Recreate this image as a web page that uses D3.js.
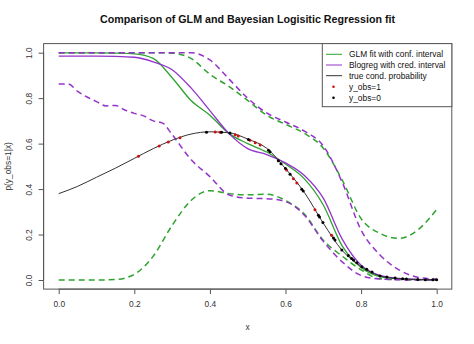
<!DOCTYPE html>
<html>
<head>
<meta charset="utf-8">
<script src="https://cdn.jsdelivr.net/npm/d3@7/dist/d3.min.js"></script>
<style>
  html, body { margin: 0; padding: 0; background: #fff; }
  svg { display: block; font-family: "Liberation Sans", Arial, sans-serif; }
</style>
</head>
<body>
<svg id="chart" width="474" height="344"></svg>
<script>
// Evaluation grid shared by the fitted curves
const xGrid = [0.00, 0.05, 0.10, 0.15, 0.20, 0.25, 0.30, 0.35, 0.40, 0.45, 0.50,
               0.55, 0.60, 0.65, 0.70, 0.75, 0.80, 0.85, 0.90, 0.95, 1.00];

// True conditional probability p(y=1|x)
const trueProb = [0.380, 0.412, 0.452, 0.492, 0.535, 0.578, 0.615, 0.642, 0.652, 0.648, 0.620,
                  0.580, 0.490, 0.385, 0.250, 0.130, 0.060, 0.018, 0.006, 0.002, 0.001];

// GLM fit and its confidence band
const glmFit   = [0.999, 0.999, 0.999, 0.998, 0.995, 0.975, 0.890, 0.790, 0.725, 0.645, 0.600,
                  0.563, 0.510, 0.445, 0.330, 0.150, 0.055, 0.015, 0.005, 0.002, 0.001];
const glmUpper = [1.000, 1.000, 1.000, 1.000, 1.000, 1.000, 0.998, 0.975, 0.905, 0.852, 0.790,
                  0.725, 0.685, 0.645, 0.580, 0.440, 0.270, 0.205, 0.183, 0.220, 0.310];
const glmLower = [0.000, 0.000, 0.000, 0.002, 0.025, 0.105, 0.240, 0.350, 0.393, 0.380, 0.375,
                  0.377, 0.350, 0.290, 0.175, 0.105, 0.045, 0.005, 0.002, 0.001, 0.000];

// Bayesian logistic regression fit and its credible band
const blogFit   = [0.985, 0.985, 0.985, 0.984, 0.980, 0.960, 0.925, 0.845, 0.745, 0.645, 0.578,
                   0.552, 0.515, 0.460, 0.360, 0.180, 0.065, 0.020, 0.007, 0.003, 0.002];
const blogUpper = [1.000, 1.000, 1.000, 1.000, 1.000, 1.000, 1.000, 1.000, 0.968, 0.885, 0.800,
                   0.735, 0.695, 0.655, 0.590, 0.430, 0.220, 0.110, 0.045, 0.012, 0.004];
// The lower credible bound is rougher, so it has its own finer grid
const blogLowerX = [0.000, 0.025, 0.050, 0.075, 0.100, 0.125, 0.150, 0.175, 0.200, 0.225, 0.250,
                    0.275, 0.300, 0.350, 0.400, 0.450, 0.500, 0.550, 0.600, 0.650, 0.700,
                    0.750, 0.800, 0.850, 0.900, 0.950, 1.000];
const blogLower  = [0.862, 0.862, 0.830, 0.805, 0.785, 0.766, 0.768, 0.748, 0.733, 0.722, 0.700,
                    0.690, 0.640, 0.530, 0.455, 0.375, 0.360, 0.358, 0.345, 0.285, 0.170,
                    0.080, 0.020, 0.004, 0.001, 0.000, 0.000];

// Observed inputs, split by outcome
const obsX1 = [0.211, 0.266, 0.290, 0.321, 0.414, 0.427, 0.467, 0.475, 0.506, 0.520, 0.533,
               0.603, 0.621, 0.630, 0.678, 0.722];
const obsX0 = [0.391, 0.431, 0.453, 0.502, 0.555, 0.559, 0.581, 0.588, 0.600, 0.612, 0.643,
               0.647, 0.687, 0.690, 0.699, 0.727, 0.731, 0.749, 0.766, 0.775, 0.780, 0.789,
               0.802, 0.815, 0.829, 0.850, 0.868, 0.890, 0.910, 0.920, 0.950, 0.970, 0.990, 1.000];

const xTicks = [0, 0.2, 0.4, 0.6, 0.8, 1.0];
const yTicks = [0, 0.2, 0.4, 0.6, 0.8, 1.0];

const legendLabels = ["GLM fit with conf. interval", "Blogreg with cred. interval",
                      "true cond. probability", "y_obs=1", "y_obs=0"];

const GREEN = "#2ea32e", PURPLE = "#9333cc", TRUE_COL = "#333333", RED = "#cc1111", AXIS = "#555555";

const svg = d3.select("#chart");
const box = { left: 43.6, right: 451.8, top: 43.6, bottom: 289.1 };

// R-style 4% padding on both axes
const x = d3.scaleLinear().domain([-0.04, 1.04]).range([box.left, box.right]);
const y = d3.scaleLinear().domain([-0.04, 1.04]).range([box.bottom, box.top]);

// Title
svg.append("text")
  .attr("x", 247.5).attr("y", 23)
  .attr("text-anchor", "middle")
  .attr("font-size", 10.7).attr("font-weight", "bold").attr("fill", "#111")
  .text("Comparison of GLM and Bayesian Logisitic Regression fit");

// Axes
const xAxis = d3.axisBottom(x).tickValues(xTicks).tickFormat(d3.format(".1f")).tickSize(5).tickPadding(4);
const yAxis = d3.axisLeft(y).tickValues(yTicks).tickFormat(d3.format(".1f")).tickSize(5).tickPadding(3);

const gx = svg.append("g").attr("transform", `translate(0,${box.bottom})`).call(xAxis);
gx.select(".domain").attr("d", `M${x(0)},0H${x(1)}`);
const gy = svg.append("g").attr("transform", `translate(${box.left},0)`).call(yAxis);
gy.select(".domain").attr("d", `M0,${y(0)}V${y(1)}`);
[gx, gy].forEach(g => {
  g.selectAll("path, line").attr("stroke", AXIS);
  g.selectAll("text").attr("font-size", 8.4).attr("fill", "#333")
    .attr("font-family", "\"Liberation Sans\", Arial, sans-serif");
});
gx.selectAll("text").attr("dy", "0.71em").attr("y", 12);
// Vertical tick labels on the y axis, read bottom-to-top
gy.selectAll(".tick text")
  .attr("x", 0).attr("y", 0).attr("dy", "0")
  .attr("text-anchor", "middle")
  .attr("transform", "translate(-12,0) rotate(-90)");

// Plot frame
svg.append("rect")
  .attr("x", box.left).attr("y", box.top)
  .attr("width", box.right - box.left).attr("height", box.bottom - box.top)
  .attr("fill", "none").attr("stroke", AXIS).attr("stroke-width", 1);

// Axis titles
svg.append("text").attr("x", 247.7).attr("y", 330)
  .attr("text-anchor", "middle").attr("font-size", 8.4).attr("fill", "#333").text("x");
svg.append("text").attr("transform", `translate(11,${(box.top + box.bottom) / 2}) rotate(-90)`)
  .attr("text-anchor", "middle").attr("font-size", 8.4).attr("fill", "#333").text("p(y_obs=1|x)");

// Curves, clipped to the plotting region
svg.append("clipPath").attr("id", "plotclip")
  .append("rect").attr("x", box.left).attr("y", box.top)
  .attr("width", box.right - box.left).attr("height", box.bottom - box.top);
const plot = svg.append("g").attr("clip-path", "url(#plotclip)");

const lineGen = d3.line().x(d => x(d[0])).y(d => y(d[1])).curve(d3.curveMonotoneX);
const zipXY = (xs, ys) => xs.map((v, i) => [v, ys[i]]);

function drawCurve(xs, ys, color, width, dash) {
  plot.append("path")
    .attr("d", lineGen(zipXY(xs, ys)))
    .attr("fill", "none").attr("stroke", color)
    .attr("stroke-width", width)
    .attr("stroke-dasharray", dash || null)
    .attr("stroke-linejoin", "round");
}

drawCurve(xGrid, glmFit, GREEN, 1.3);
drawCurve(xGrid, glmUpper, GREEN, 1.5, "6,4");
drawCurve(xGrid, glmLower, GREEN, 1.5, "6,4");
drawCurve(xGrid, blogFit, PURPLE, 1.3);
drawCurve(xGrid, blogUpper, PURPLE, 1.5, "6,4");
drawCurve(blogLowerX, blogLower, PURPLE, 1.5, "6,4");
drawCurve(xGrid, trueProb, TRUE_COL, 1);

// Observations sit on the true probability curve
const trueAt = v => {
  const i = Math.min(xGrid.length - 2, Math.max(0, d3.bisectRight(xGrid, v) - 1));
  const t = (v - xGrid[i]) / (xGrid[i + 1] - xGrid[i]);
  return trueProb[i] + t * (trueProb[i + 1] - trueProb[i]);
};
plot.selectAll("circle.obs1").data(obsX1).join("circle").attr("class", "obs1")
  .attr("cx", d => x(d)).attr("cy", d => y(trueAt(d))).attr("r", 1.5).attr("fill", RED);
plot.selectAll("circle.obs0").data(obsX0).join("circle").attr("class", "obs0")
  .attr("cx", d => x(d)).attr("cy", d => y(trueAt(d))).attr("r", 1.5).attr("fill", "#000");

// Legend
const lg = svg.append("g");
lg.append("rect").attr("x", 322.3).attr("y", box.top)
  .attr("width", box.right - 322.3).attr("height", 106.7 - box.top)
  .attr("fill", "#fff").attr("stroke", AXIS).attr("stroke-width", 1);
const rowY = [54.3, 65, 75.7, 86.7, 97.7];
const swatch = [
  { type: "line", color: GREEN },
  { type: "line", color: PURPLE },
  { type: "line", color: TRUE_COL },
  { type: "dot", color: RED },
  { type: "dot", color: "#000" }
];
legendLabels.forEach((lab, i) => {
  const s = swatch[i];
  if (s.type === "line") {
    lg.append("line").attr("x1", 326).attr("x2", 342).attr("y1", rowY[i]).attr("y2", rowY[i])
      .attr("stroke", s.color).attr("stroke-width", 1);
  } else {
    lg.append("circle").attr("cx", 333.5).attr("cy", rowY[i]).attr("r", 1.3).attr("fill", s.color);
  }
  lg.append("text").attr("x", 349).attr("y", rowY[i]).attr("dy", "0.35em")
    .attr("font-size", 8.4).attr("fill", "#111").text(lab);
});
</script>
</body>
</html>
